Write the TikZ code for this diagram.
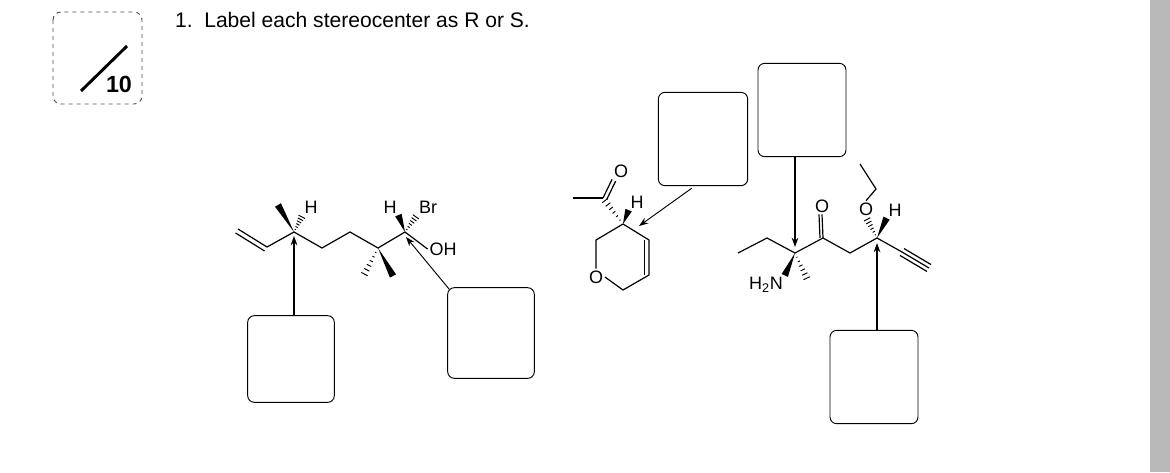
\documentclass[tikz,border=0pt]{standalone}
\usepackage{fontspec}
\setmainfont{Liberation Sans}
\usetikzlibrary{calc,arrows.meta}
\newcommand\hashw[2]{\foreach \t in {0.15,0.3,...,1.0}{\path ($(#1)!\t!(#2)$) coordinate (hp); \draw[line width=0.7pt] ($(hp)!\t*3pt!90:(#2)$) -- ($(hp)!\t*3pt!-90:(#2)$);}}
\newcommand\wedgeb[2]{\fill (#1) -- ($(#2)!2.6pt!90:(#1)$) -- ($(#2)!2.6pt!-90:(#1)$) -- cycle;}
\begin{document}
\begin{tikzpicture}[x=0.75pt,y=-0.75pt,line width=0.9pt,
  ansbox/.style={draw,rounded corners=5pt,line width=0.7pt},
  atom/.style={inner sep=1pt,font=\fontsize{13.5}{15}\selectfont},
  arr/.style={-{Stealth[length=7pt,width=5pt]},line width=1.1pt}]
\useasboundingbox (0,0) rectangle (1170,472);
\fill[gray!55] (1150,0) rectangle (1170,472);
% points box
\draw[dashed,rounded corners=6pt,line width=0.7pt,gray!60!black] (53,12) rectangle (142,104);
\draw[line width=2.2pt] (81,91) -- (127,46);
\node[font=\bfseries\fontsize{17.5}{18}\selectfont] (ten) at (119,84) {10};
\node[anchor=west,font=\fontsize{15.8}{17}\selectfont] (q) at (170,20) {1.\ \ Label each stereocenter as R or S.};
% answer boxes
\node[ansbox,minimum width=65pt,minimum height=65pt] (b1) at (291,359) {};
\node[ansbox,minimum width=65pt,minimum height=68pt] (b2) at (491,333) {};
\node[ansbox,minimum width=67pt,minimum height=70pt] (b3) at (703,139) {};
\node[ansbox,minimum width=66pt,minimum height=70pt] (b4) at (802,110) {};
\node[ansbox,minimum width=66pt,minimum height=70pt] (b5) at (874,377) {};
% molecule 1
\coordinate (a0) at (238,229); \coordinate (a1) at (267,247); \coordinate (c1) at (294,232);
\coordinate (m1) at (278,205); \coordinate (a2) at (322,248); \coordinate (a3) at (350,232);
\coordinate (c2) at (378,248); \coordinate (m2) at (363,277); \coordinate (m3) at (393,276);
\coordinate (c3) at (405,232);
\node[atom] (h1) at (311,207) {H}; \node[atom] (h2) at (390,207) {H};
\node[atom] (br) at (428,207) {Br}; \node[atom] (oh) at (443,249) {OH};
\draw (a0) -- (a1) -- (c1) -- (a2) -- (a3) -- (c2) -- (c3) -- (oh.west);
\draw ($(a0)!3.5pt!-90:(a1)$) -- ($(a1)!3.5pt!90:(a0)$);
\wedgeb{c1}{m1} \hashw{c1}{h1.south west}
\hashw{c2}{m2} \wedgeb{c2}{m3}
\wedgeb{c3}{h2.south east} \hashw{c3}{br.south west}
\draw[arr] (b1.north -| c1) -- ($(c1)+(0,4)$);
\draw[arr,line width=0.7pt] (b2.north west) ++(2,2) -- ($(c3)+(1,5)$);
% molecule 2
\coordinate (me) at (573,198); \coordinate (cc) at (603,198); \node[atom] (o1) at (621,171) {O};
\coordinate (s2) at (623,224); \node[atom] (h3) at (637,202) {H};
\coordinate (r1) at (649,240); \coordinate (r2) at (649,275); \coordinate (r3) at (623,290);
\node[atom] (o2) at (596,277) {O}; \coordinate (r5) at (596,240);
\draw (me) -- (cc); \draw (cc) -- (o1.south west);
\draw ($(cc)!3pt!-90:(o1.south west)$) -- ($(o1.south west)!3pt!90:(cc)$);
\hashw{s2}{cc}
\wedgeb{s2}{h3.south west}
\draw (s2) -- (r1) -- (r2) -- (r3) -- (o2.east); \draw (o2.north) -- (r5) -- (s2);
\draw ($(r1)!3.5pt!-90:(r2)$) -- ($(r2)!3.5pt!90:(r1)$);
\draw[arr,line width=0.7pt] (b3.south west) ++(34,2) -- ($(s2)+(16,2)$);
% molecule 3
\coordinate (e1) at (738,253); \coordinate (e2) at (767,238); \coordinate (s3) at (795,253);
\node[atom] (n) at (766,285) {H\textsubscript{2}N}; \coordinate (m4) at (808,281);
\coordinate (k) at (823,238); \node[atom] (o3) at (822,206) {O};
\coordinate (k2) at (850,253); \coordinate (s4) at (877,238);
\node[atom] (o4) at (866,209) {O}; \coordinate (et1) at (876,189); \coordinate (et2) at (860,164);
\node[atom] (h4) at (895,210) {H};
\coordinate (y1) at (902,252); \coordinate (y2) at (929,268);
\draw (e1) -- (e2) -- (s3) -- (k) -- (k2) -- (s4) -- (y1);
\draw (k) -- (o3.south); \draw ($(k)+(-3,0)$) -- ($(o3.south)+(-3,0)$);
\wedgeb{s3}{n.north east} \hashw{s3}{m4}
\hashw{s4}{o4.south} \wedgeb{s4}{h4.south west}
\draw (o4.north) -- (et1) -- (et2);
\draw (y1) -- (y2);
\draw ($(y1)!3pt!90:(y2)$) -- ($(y2)!3pt!-90:(y1)$);
\draw ($(y1)!3pt!-90:(y2)$) -- ($(y2)!3pt!90:(y1)$);
\draw[arr] (b4.south -| s3) -- ($(s3)+(0,-6)$);
\draw[arr] (b5.north -| s4) -- ($(s4)+(0,5)$);
\end{tikzpicture}
\end{document}
